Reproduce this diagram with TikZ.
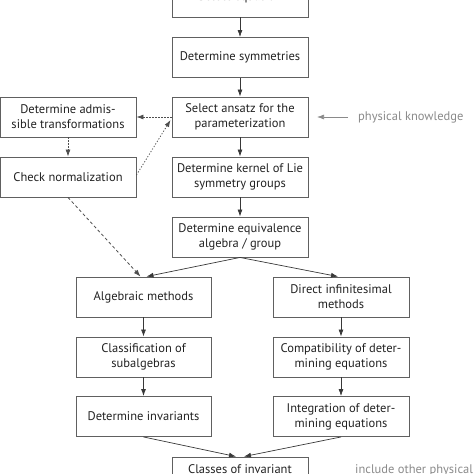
\documentclass[tikz,border=0pt]{standalone}
\usepackage{fontspec}
\setmainfont{PT Sans}
\usetikzlibrary{arrows.meta,calc}
\definecolor{boxline}{HTML}{606060}
\definecolor{txt}{HTML}{222222}
\definecolor{soft}{HTML}{8A8A8A}
\tikzset{
  stepbox/.style={draw=boxline, line width=0.9pt, minimum width=136pt, minimum height=40pt,
    inner sep=0pt, align=center, text=txt, font=\fontsize{12.5}{15}\selectfont},
  flow/.style={draw=txt!90, line width=0.7pt, -{Latex[length=7pt,width=5pt]}},
  dotline/.style={draw=txt!80, line width=0.8pt, dash pattern=on 1.2pt off 1.8pt, -{Latex[length=7pt,width=5pt]}},
  dashline/.style={draw=txt!80, line width=0.8pt, dash pattern=on 3pt off 2.5pt, -{Latex[length=7pt,width=5pt]}},
  note/.style={text=soft, font=\fontsize{12.5}{15}\selectfont, inner sep=0pt}
}
\begin{document}
\begin{tikzpicture}[x=1pt,y=-1pt]
\useasboundingbox (0,0) rectangle (474,474);
\node[stepbox] (sel) at (240,-3) {Select equation};
\node[stepbox] (sym) at (240,57.5) {Determine symmetries};
\node[stepbox] (ans) at (240,117) {Select ansatz for the\\parameterization};
\node[stepbox] (adm) at (68,117) {Determine admis-\\sible transformations};
\node[stepbox] (chk) at (68,177) {Check normalization};
\node[stepbox] (ker) at (240,177) {Determine kernel of Lie\\symmetry groups};
\node[stepbox] (eqv) at (240,237) {Determine equivalence\\algebra / group};
\node[stepbox, minimum width=135pt] (alg) at (143.5,297) {Algebraic methods};
\node[stepbox] (dir) at (341,297) {Direct infinitesimal\\methods};
\node[stepbox, minimum width=135pt] (cls) at (143.5,357) {Classification of\\subalgebras};
\node[stepbox] (cmp) at (341,357) {Compatibility of deter-\\mining equations};
\node[stepbox, minimum width=135pt] (inv) at (143.5,416.5) {Determine invariants};
\node[stepbox] (itg) at (341,416.5) {Integration of deter-\\mining equations};
\node[stepbox, minimum height=40pt, text height=0pt] (res) at (240,477) {};
\node[text=txt, font=\fontsize{12.5}{15}\selectfont, inner sep=0pt, anchor=base] (restxt) at (240,473) {Classes of invariant};
\node[note, anchor=west] (phys) at (358,117) {physical knowledge};
\coordinate (physend) at (348,117);
\coordinate (physarr) at (317,117);
\node[note, anchor=base west] (incl) at (355,473) {include other physical};

\draw[flow] (sel) -- (sym);
\draw[flow] (sym) -- (ans);
\draw[flow] (ans) -- (ker);
\draw[flow] (ker) -- (eqv);
\draw[flow] (eqv.south) -- ($(alg.north)+(3,0)$);
\draw[flow] (eqv.south) -- ($(dir.north)+(-3,0)$);
\draw[flow] (alg) -- (cls);
\draw[flow] (cls) -- (inv);
\draw[flow] (dir) -- (cmp);
\draw[flow] (cmp) -- (itg);
\draw[flow] (inv.south) -- ($(res.north)+(-4,0)$);
\draw[flow] (itg.south) -- ($(res.north)+(4,0)$);
\draw[flow, draw=soft] (physend) -- (physarr);

\draw[dotline] (ans.west) -- (adm.east);
\draw[dotline] (adm) -- (chk);
\draw[dotline] ($(chk.east)+(0,-2)$) -- ($(ans.west)+(-1,3)$);
\draw[dashline] (chk.south) -- ($(alg.north)+(-3,0)$);
\end{tikzpicture}
\end{document}
